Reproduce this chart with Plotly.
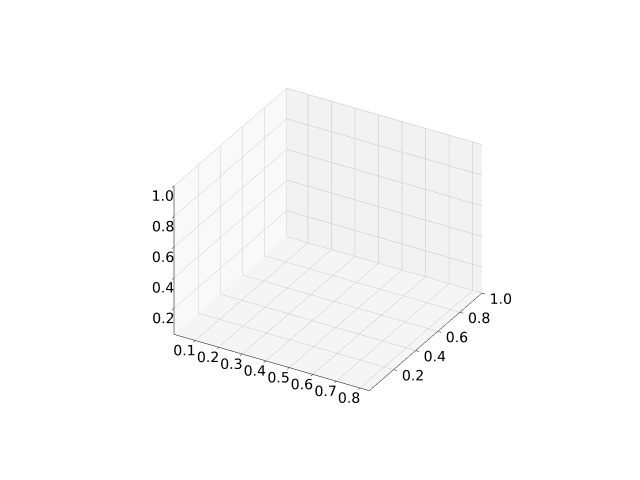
import plotly.graph_objects as go

# Data (the reference chart is an empty 3D axes)
x_vals = [0.4]
y_vals = [0.5]
z_vals = [0.5]

x_range = [0.01, 0.84]
y_range = [-0.02, 1.0]
z_range = [0.03, 1.0]
x_ticks = [0.1, 0.2, 0.3, 0.4, 0.5, 0.6, 0.7, 0.8]
y_ticks = [0.2, 0.4, 0.6, 0.8, 1.0]
z_ticks = [0.2, 0.4, 0.6, 0.8, 1.0]

fig = go.Figure()
fig.add_trace(go.Scatter3d(x=x_vals, y=y_vals, z=z_vals, mode="markers",
                           marker=dict(size=1, opacity=0), showlegend=False, hoverinfo="skip"))

def ax(rng, ticks, bg):
    return dict(
        range=rng, tickvals=ticks, ticktext=[f"{t:.1f}" for t in ticks],
        showbackground=True, backgroundcolor=bg,
        gridcolor="#c4c4c4", gridwidth=1,
        showline=True, linecolor="black", linewidth=1,
        ticks="outside", ticklen=4, tickcolor="black",
        zeroline=False, title=dict(text=""), showspikes=False,
        tickangle=0,
        tickfont=dict(family="DejaVu Sans", size=13, color="black"),
    )

fig.update_layout(
    width=640, height=480,
    paper_bgcolor="white",
    margin=dict(l=0, r=0, t=0, b=0),
    font=dict(family="DejaVu Sans", size=13, color="black"),
    scene=dict(
        domain=dict(x=[0.0, 1.0], y=[0.047, 0.987]),
        xaxis=ax(x_range, x_ticks, "#f9f9f9"),
        yaxis=ax(y_range, y_ticks, "#f2f2f2"),
        zaxis=ax(z_range, z_ticks, "#f5f5f5"),
        aspectmode="manual",
        aspectratio=dict(x=1, y=1, z=0.76),
        camera=dict(eye=dict(x=1.065, y=-1.845, z=1.23), center=dict(x=0, y=0, z=0),
                    projection=dict(type="orthographic")),
    ),
)

fig.write_html("out.html")
